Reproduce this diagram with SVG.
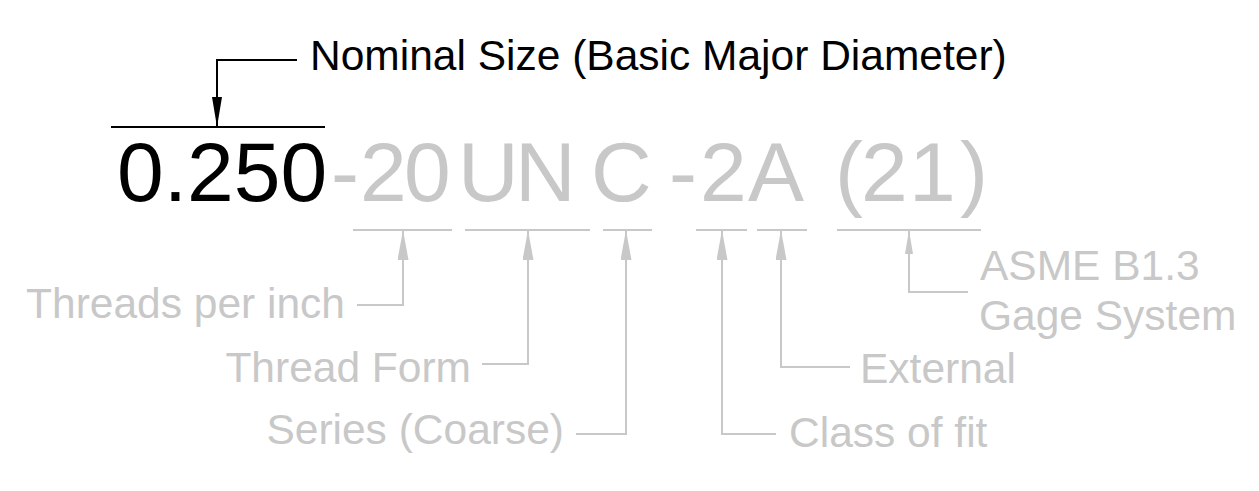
<svg xmlns="http://www.w3.org/2000/svg" width="1259" height="491" viewBox="0 0 1259 491">
<style>
.bg{fill:#ffffff}
.blk{font-family:"Liberation Sans",Arial,sans-serif;fill:#000000}
.gry{font-family:"Liberation Sans",Arial,sans-serif;fill:#c8c8c8}
.lbl{font-size:42.5px}
.big{font-size:84px}
.lnB{stroke:#000000;stroke-width:2;fill:none}
.lnG{stroke:#c8c8c8;stroke-width:2;fill:none}
</style>
<defs>
<marker id="ahB" markerUnits="userSpaceOnUse" viewBox="0 0 30 10" refX="30" refY="5" markerWidth="30" markerHeight="10" orient="auto"><path d="M0,0 L30,5 L0,10 Z" fill="#000000"/></marker>
<marker id="ahG" markerUnits="userSpaceOnUse" viewBox="0 0 30 11" refX="30" refY="5.5" markerWidth="30" markerHeight="11" orient="auto"><path d="M0,0 L30,5.5 L0,11 Z" fill="#c8c8c8"/></marker>
<marker id="ahGs" markerUnits="userSpaceOnUse" viewBox="0 0 24 8" refX="24" refY="4" markerWidth="24" markerHeight="8" orient="auto"><path d="M0,0 L24,4 L0,8 Z" fill="#c8c8c8"/></marker>
</defs>
<rect class="bg" x="0" y="0" width="1259" height="491"/>

<g id="callout-designation">
<text class="blk big" x="117" y="201">0.250</text>
<text class="gry big" x="331 360 404 458 515 591 640 669 700 748 800 835 861 909 960" y="201">-20UNC -2A (21)</text>
</g>

<g id="underlines">
<line class="lnB" x1="111" y1="127" x2="325" y2="127"/>
<line class="lnG" x1="353" y1="230" x2="452" y2="230"/>
<line class="lnG" x1="465" y1="230" x2="590" y2="230"/>
<line class="lnG" x1="603" y1="230" x2="652" y2="230"/>
<line class="lnG" x1="696" y1="230" x2="747" y2="230"/>
<line class="lnG" x1="757" y1="230" x2="807" y2="230"/>
<line class="lnG" x1="837" y1="230" x2="981" y2="230"/>
</g>

<g id="connectors">
<path class="lnB" d="M297,60 H217 V127" marker-end="url(#ahB)"/>
<path class="lnG" d="M357,305 H403 V230" marker-end="url(#ahG)"/>
<path class="lnG" d="M482,364 H528 V230" marker-end="url(#ahG)"/>
<path class="lnG" d="M576,434 H626 V230" marker-end="url(#ahG)"/>
<path class="lnG" d="M776,434 H722 V230" marker-end="url(#ahG)"/>
<path class="lnG" d="M850,367 H781 V230" marker-end="url(#ahG)"/>
<path class="lnG" d="M968,292 H909 V230" marker-end="url(#ahGs)"/>
</g>

<g id="node-nominal"><text class="blk lbl" x="310" y="70">Nominal Size (Basic Major Diameter)</text></g>
<g id="node-tpi"><text class="gry lbl" x="345" y="318" text-anchor="end">Threads per inch</text></g>
<g id="node-form"><text class="gry lbl" x="471" y="382" text-anchor="end">Thread Form</text></g>
<g id="node-series"><text class="gry lbl" x="564" y="444" text-anchor="end">Series (Coarse)</text></g>
<g id="node-class"><text class="gry lbl" x="789" y="447">Class of fit</text></g>
<g id="node-external"><text class="gry lbl" x="860" y="383">External</text></g>
<g id="node-asme"><text class="gry lbl" x="980" y="280">ASME B1.3</text><text class="gry lbl" x="979" y="330">Gage System</text></g>
</svg>
